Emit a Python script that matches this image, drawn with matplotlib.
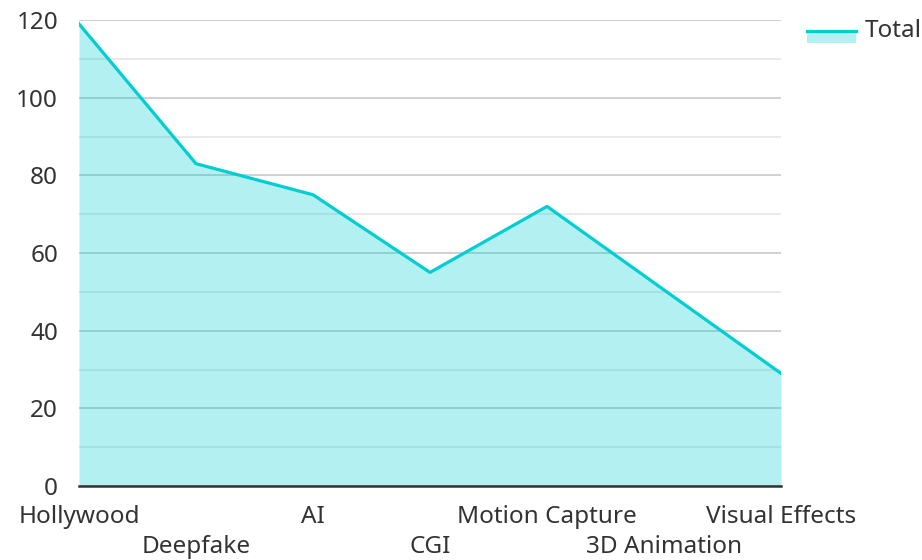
import numpy as np
import matplotlib.pyplot as plt
from matplotlib.lines import Line2D
from matplotlib.patches import Rectangle

plt.rcParams['font.family'] = ['Noto Sans', 'DejaVu Sans']

# Data
categories = ['Hollywood', 'Deepfake', 'AI', 'CGI', 'Motion Capture', '3D Animation', 'Visual Effects']
totals = [119, 83, 75, 55, 72, 50.5, 29]
series_name = 'Total'

line_color = '#00CED1'
text_color = '#333333'
fs = 17.5

fig = plt.figure(figsize=(9.22, 5.6), dpi=100)
ax = fig.add_axes([79 / 922, 1 - 486 / 560, (781 - 79) / 922, (486 - 20) / 560])

x = np.arange(len(categories))
ax.fill_between(x, totals, 0, color=line_color, alpha=0.3, linewidth=0, zorder=2)
ax.plot(x, totals, color=line_color, linewidth=2.3, zorder=3)

ax.set_xlim(0, len(categories) - 1)
ax.set_ylim(0, 120)

# grid: major every 20, minor every 10
ax.set_yticks(np.arange(0, 121, 20))
ax.set_yticks(np.arange(10, 120, 20), minor=True)
ax.set_axisbelow(True)
ax.grid(axis='y', which='major', color='#c8c8c8', linewidth=1.2)
ax.grid(axis='y', which='minor', color='#e6e6e6', linewidth=1.2)
ax.grid(axis='x', visible=False)

for side in ['left', 'right', 'top']:
    ax.spines[side].set_visible(False)
ax.spines['bottom'].set_color(text_color)
ax.spines['bottom'].set_linewidth(1.8)
ax.spines['bottom'].set_zorder(4)

# alternating two-row x labels: even on major ticks, odd on minor ticks further down
ax.set_xticks(x[::2])
ax.set_xticklabels(categories[::2])
ax.set_xticks(x[1::2], minor=True)
ax.set_xticklabels(categories[1::2], minor=True)
ax.tick_params(axis='x', which='major', length=0, pad=14, labelsize=fs, labelcolor=text_color)
ax.tick_params(axis='x', which='minor', length=0, pad=35.5, labelsize=fs, labelcolor=text_color)
ax.tick_params(axis='y', which='both', length=0, pad=15, labelsize=fs, labelcolor=text_color)

# legend (line with fill underneath)
fig.add_artist(Rectangle((807 / 922, 1 - 43 / 560), 49 / 922, 12 / 560,
                         transform=fig.transFigure, color=line_color, alpha=0.3, linewidth=0))
fig.add_artist(Line2D([807 / 922, 856 / 922], [1 - 31 / 560, 1 - 31 / 560],
                      transform=fig.transFigure, color=line_color, linewidth=2.3))
fig.text(865 / 922, 1 - 31 / 560, series_name, fontsize=fs, color=text_color,
         ha='left', va='center')

fig.savefig('out.png', dpi=100)
